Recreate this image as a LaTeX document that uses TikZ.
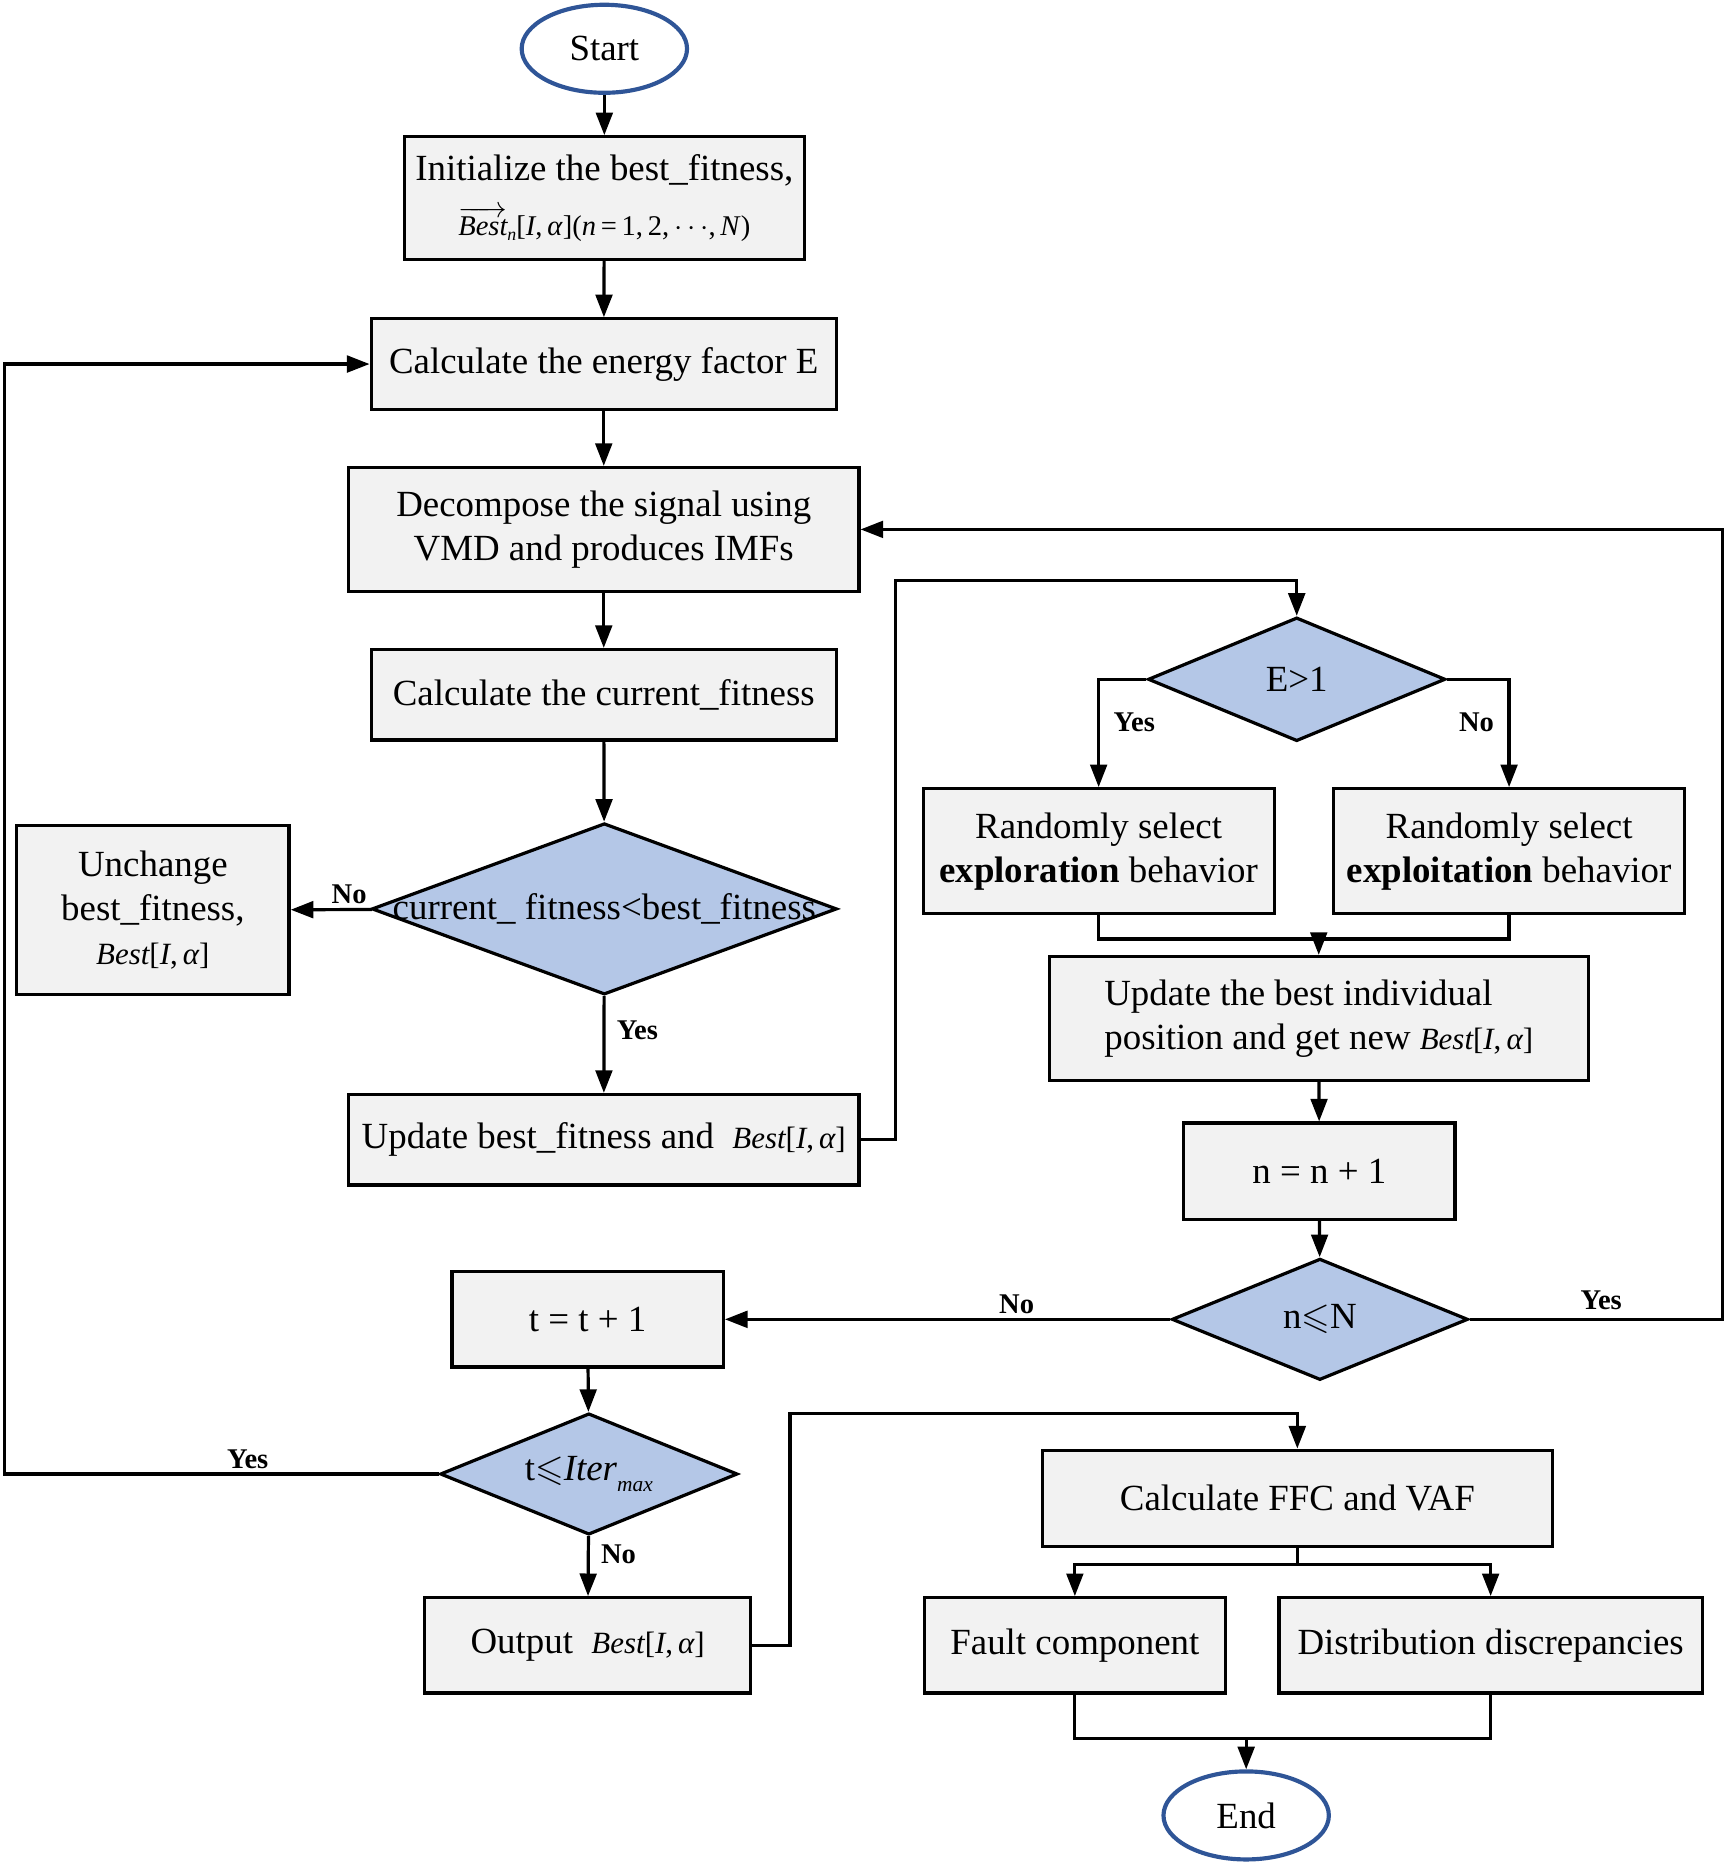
\documentclass[tikz,border=0pt]{standalone}
\usepackage{amssymb}
\usepackage{fontspec}
\setmainfont{Liberation Serif}
\usetikzlibrary{shapes.geometric,arrows.meta}
\definecolor{boxgray}{HTML}{F2F2F2}
\definecolor{decblue}{HTML}{B4C7E7}
\definecolor{termblue}{HTML}{2F5597}
\newcommand{\bestIa}{{\fontsize{26}{30}\selectfont\itshape Best\upshape[\itshape I\upshape,\,\itshape α\upshape]}}
\begin{document}
\begin{tikzpicture}[x=1pt,y=-1pt, font=\fontsize{31}{37}\selectfont, line width=2.7pt, >={Triangle[length=19pt,width=14pt]},
	proc/.style={draw, fill=boxgray, inner sep=0pt, align=center},
	decide/.style={draw, fill=decblue, diamond, inner sep=0pt},
	term/.style={draw=termblue, ellipse, line width=3.5pt, minimum width=139pt, minimum height=74pt, inner sep=0pt},
	lbl/.style={font=\fontsize{24}{28}\selectfont\bfseries}]
				\useasboundingbox (0,0) rectangle (1450,1566);
				% left column
				\node[term] (start) at (508,41) {Start};
				\node[proc, minimum width=336pt, minimum height=103pt] (init) at (508,166.5) {Initialize the best\_fitness,\\[9pt] {\fontsize{24}{30}\selectfont $\overrightarrow{\mbox{\itshape Best}}$\raisebox{-0.4ex}{\fontsize{15}{18}\selectfont\itshape n}[\textit{I},\,\textit{α}](\textit{n}\,=\,1,\,2,\,$\cdots$,\,\textit{N})}};
				\node[proc, minimum width=391pt, minimum height=76pt] (energy) at (507.5,306) {Calculate the energy factor E};
				\node[proc, minimum width=429pt, minimum height=104pt] (decomp) at (507.5,445) {Decompose the signal using\\VMD and produces IMFs};
				\node[proc, minimum width=391pt, minimum height=76pt] (curfit) at (507.5,584) {Calculate the current\_fitness};
				\node[decide, minimum width=391pt, minimum height=144pt] (cmp) at (508,764) {\makebox[0pt]{current\_ fitness<best\_fitness}};
				\node[proc, minimum width=229pt, minimum height=142pt] (keep) at (128.5,765) {Unchange\\best\_fitness,\\ \bestIa};
				\node[proc, minimum width=429pt, minimum height=76pt] (upd) at (507.5,958) {Update best\_fitness and \ \bestIa};
				\node[proc, minimum width=228pt, minimum height=80pt] (tinc) at (494,1109) {t = t + 1};
				\node[decide, minimum width=250pt, minimum height=102pt] (tcmp) at (495,1239) {\makebox[0pt]{t$\leqslant$\textit{Iter}\raisebox{-0.6ex}{\fontsize{18}{20}\selectfont\itshape max}}};
				\node[proc, minimum width=274pt, minimum height=80pt] (output) at (494,1383) {Output \ \bestIa};
				% right column
				\node[decide, minimum width=250pt, minimum height=104pt] (ecmp) at (1090,571) {\makebox[0pt]{E>1}};
				\node[proc, minimum width=295pt, minimum height=105pt] (explore) at (923.5,715.5) {Randomly select\\\textbf{exploration} behavior};
				\node[proc, minimum width=295pt, minimum height=105pt] (exploit) at (1268.5,715.5) {Randomly select\\\textbf{exploitation} behavior};
				\node[proc, minimum width=453pt, minimum height=104pt, align=left] (updbest) at (1108.5,856) {Update the best individual\\position and get new \bestIa\hspace{10pt}};
				\node[proc, minimum width=228pt, minimum height=81pt] (ninc) at (1109,984.5) {n = n + 1};
				\node[decide, minimum width=249pt, minimum height=102pt] (ncmp) at (1109.5,1109) {\makebox[0pt]{n$\leqslant$N}};
				\node[proc, minimum width=429pt, minimum height=81pt] (ffc) at (1090.5,1259.5) {Calculate FFC and VAF};
				\node[proc, minimum width=253pt, minimum height=80pt] (fault) at (903.5,1383) {Fault component};
				\node[proc, minimum width=356pt, minimum height=80pt] (distr) at (1253,1383) {Distribution discrepancies};
				\node[term] (finish) at (1047.5,1526) {End};
				% connectors
				\draw[->] (start) -- (init);
				\draw[->] (init) -- (energy);
				\draw[->] (energy) -- (decomp);
				\draw[->] (decomp) -- (curfit);
				\draw[->] (curfit) -- (cmp);
				\draw[->] (cmp) -- node[lbl, above, pos=0.28] (cmpno) {No} (keep);
				\draw[->] (cmp) -- node[lbl, right=6pt, pos=0.35] (cmpyes) {Yes} (upd);
				\draw[->] (upd.east) -| (753,488) -| (ecmp.north);
				\draw[->] (ecmp.west) -| node[lbl, right=8pt, pos=0.7] (eyes) {Yes} (explore.north);
				\draw[->] (ecmp.east) -| node[lbl, left=8pt, pos=0.7] (eno) {No} (exploit.north);
				\draw (explore.south) -- ++(0,20) coordinate (joinA) -| (exploit.south);
				\draw[->] (joinA -| updbest.north) -- (updbest.north);
				\draw[->] (updbest) -- (ninc);
				\draw[->] (ninc) -- (ncmp);
				\draw[->] (ncmp) -- node[lbl, above, pos=0.345] (nno) {No} (tinc);
				\draw[->] (ncmp.east) -| node[lbl, above=3pt, pos=0.26] (nyes) {Yes} (1448,445) -- (decomp.east);
				\draw[->] (tinc) -- (tcmp);
				\draw[->] (tcmp.west) -| node[lbl, above, pos=0.22] (tyes) {Yes} (4,306) -- (energy.west);
				\draw[->] (tcmp) -- node[lbl, right=6pt, pos=0.3] (tno) {No} (output);
				\draw[->] (output.east) -| (664,1188) -| (ffc.north);
				\draw (ffc.south) -- ++(0,14) coordinate (splitA);
				\draw[->] (splitA) -| (fault.north);
				\draw[->] (splitA) -| (distr.north);
				\draw (fault.south) -- ++(0,37) coordinate (joinB) -| (distr.south);
				\draw[->] (joinB -| finish.north) -- (finish.north);
			\end{tikzpicture}
\end{document}
